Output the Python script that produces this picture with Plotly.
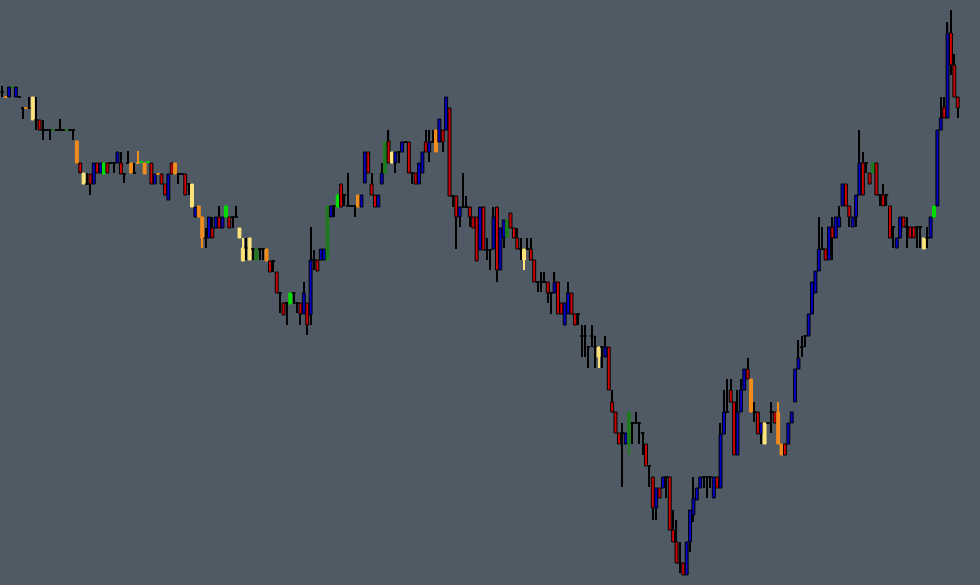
import numpy as np
import plotly.graph_objects as go

# candle category: B=up(blue) R=down(red) K=doji Y=yellow O=orange G=dark green L=lime
kind = list(
    "KOBGBKKOKY" "KRKKKGKKKG" "KKORYKRBRB" "LRKKBRKKOK" "OLOLRBORRB"
    "ROKKRKYBOO" "KBRBRBLRKK" "YYKYKGKKOR" "KRKRKLKKRB" "RBKRBBGBKL"
    "RKKKKOBBRR" "RBBGRYBKBK" "RKRBBRBKOB" "RBRKRBKKRR" "RBRKKBRBBG"
    "RRRKYKRRKK" "KRKBRRBBRR" "KKKKKKYKBR" "RRRKBGKKKK" "RKRBRBKRRR"
    "KRBBBBBKKK" "BRBBKRRBBB" "ROKRBYKKRO" "ORBBBBKKBB" "BBKRBRBBBR"
    "RBBBRKRGRK" "RKRKBBRKRR" "KKYKBLBBRB" "RRR"
)
open_ = [
    508, 503, 503, 513, 503, 503, 492, 492, 492, 480,
    480, 480, 470, 470, 470, 470, 470, 470, 470, 470,
    470, 470, 459, 437, 427, 416, 426, 416, 437, 427,
    426, 437, 437, 437, 437, 437, 426, 437, 437, 427,
    437, 438, 426, 438, 437, 416, 426, 426, 416, 400,
    437, 437, 426, 426, 426, 416, 416, 383, 394, 383,
    362, 362, 372, 372, 383, 372, 383, 383, 383, 383,
    372, 352, 352, 362, 351, 351, 351, 351, 351, 339,
    339, 328, 307, 297, 297, 296, 307, 297, 297, 286,
    297, 285, 340, 340, 340, 340, 340, 383, 394, 393,
    416, 405, 394, 394, 394, 393, 393, 417, 448, 416,
    405, 393, 416, 427, 459, 437, 437, 448, 448, 458,
    458, 427, 427, 416, 427, 458, 448, 458, 448, 458,
    470, 470, 492, 404, 404, 383, 393, 393, 393, 383,
    383, 350, 393, 350, 350, 351, 393, 330, 362, 380,
    387, 372, 362, 351, 351, 351, 351, 340, 318, 318,
    318, 318, 307, 307, 318, 297, 275, 286, 307, 286,
    286, 264, 264, 253, 264, 253, 253, 253, 243, 253,
    198, 188, 167, 167, 156, 156, 177, 177, 177, 167,
    156, 134, 123, 92, 112, 112, 123, 123, 70, 58,
    37, 37, 25, 58, 85, 100, 112, 123, 123, 123,
    102, 123, 112, 166, 188, 210, 198, 145, 188, 210,
    231, 221, 188, 188, 166, 177, 177, 188, 188, 188,
    156, 156, 156, 177, 198, 231, 253, 264, 264, 286,
    307, 329, 351, 351, 340, 373, 362, 373, 394, 416,
    394, 373, 383, 405, 437, 437, 427, 427, 437, 405,
    405, 405, 394, 373, 352, 362, 383, 373, 373, 373,
    373, 373, 362, 362, 362, 383, 394, 470, 493, 482,
    567, 535, 503,
]
high = [
    514, 503, 513, 513, 513, 503, 492, 492, 503, 503,
    503, 480, 480, 470, 470, 470, 470, 481, 470, 470,
    470, 470, 459, 437, 427, 427, 426, 437, 437, 437,
    437, 437, 437, 437, 448, 448, 426, 449, 437, 437,
    449, 438, 437, 438, 437, 426, 426, 426, 416, 426,
    437, 437, 426, 426, 426, 416, 416, 393, 394, 383,
    372, 383, 383, 383, 394, 383, 394, 383, 383, 394,
    372, 362, 362, 362, 351, 351, 351, 351, 351, 339,
    339, 328, 307, 297, 297, 307, 307, 297, 297, 318,
    297, 373, 350, 340, 351, 351, 394, 394, 394, 405,
    416, 405, 427, 394, 394, 405, 405, 448, 448, 427,
    405, 405, 437, 458, 470, 448, 448, 448, 458, 458,
    458, 427, 427, 437, 448, 470, 470, 470, 470, 481,
    470, 503, 492, 404, 404, 393, 427, 404, 393, 383,
    383, 393, 393, 362, 350, 393, 393, 372, 380, 380,
    387, 372, 372, 362, 351, 362, 362, 340, 318, 328,
    328, 318, 307, 328, 318, 297, 297, 318, 307, 286,
    286, 275, 275, 253, 275, 264, 253, 253, 264, 253,
    210, 188, 167, 177, 167, 188, 177, 188, 177, 167,
    156, 134, 123, 112, 112, 123, 123, 123, 90, 80,
    58, 37, 58, 90, 123, 112, 123, 123, 123, 123,
    123, 123, 177, 210, 221, 221, 198, 210, 221, 231,
    242, 221, 198, 188, 177, 177, 177, 198, 188, 198,
    156, 156, 177, 188, 231, 260, 264, 264, 286, 318,
    329, 383, 373, 351, 373, 383, 383, 394, 416, 416,
    394, 383, 405, 470, 448, 437, 427, 437, 437, 405,
    416, 405, 394, 373, 362, 383, 383, 383, 373, 373,
    373, 373, 362, 373, 383, 394, 470, 503, 503, 578,
    590, 546, 503,
]
low = [
    503, 503, 503, 513, 503, 503, 481, 492, 492, 480,
    470, 470, 460, 470, 460, 470, 470, 470, 470, 470,
    470, 460, 437, 427, 416, 416, 405, 416, 427, 427,
    426, 427, 437, 427, 437, 426, 417, 437, 427, 427,
    437, 438, 426, 438, 416, 416, 426, 416, 405, 400,
    426, 426, 416, 426, 405, 405, 393, 383, 383, 352,
    352, 362, 362, 372, 372, 372, 383, 372, 372, 383,
    362, 339, 340, 340, 340, 340, 340, 340, 339, 328,
    328, 307, 287, 285, 275, 296, 296, 287, 275, 286,
    265, 275, 330, 329, 340, 340, 340, 383, 383, 393,
    393, 394, 394, 394, 383, 393, 393, 417, 427, 405,
    393, 393, 416, 427, 437, 437, 427, 437, 448, 458,
    427, 416, 416, 416, 427, 448, 438, 458, 448, 458,
    448, 470, 404, 393, 351, 373, 393, 393, 373, 372,
    339, 350, 350, 340, 330, 351, 318, 330, 352, 363,
    372, 362, 351, 340, 330, 351, 340, 318, 308, 308,
    318, 297, 286, 307, 286, 286, 275, 286, 286, 275,
    275, 243, 243, 232, 253, 232, 232, 232, 243, 210,
    188, 167, 156, 113, 156, 145, 156, 177, 156, 145,
    134, 113, 80, 80, 102, 112, 102, 70, 58, 37,
    27, 25, 25, 48, 78, 100, 112, 112, 102, 112,
    102, 112, 112, 166, 188, 198, 145, 145, 188, 210,
    221, 188, 178, 166, 156, 156, 177, 167, 177, 156,
    145, 145, 156, 177, 198, 231, 243, 253, 264, 286,
    307, 329, 351, 340, 340, 340, 362, 373, 394, 394,
    373, 373, 373, 405, 405, 427, 416, 427, 405, 394,
    394, 394, 362, 352, 352, 362, 373, 352, 362, 362,
    352, 352, 351, 352, 362, 383, 394, 470, 482, 482,
    525, 503, 482,
]
close = [
    508, 503, 513, 513, 513, 503, 492, 492, 492, 503,
    480, 470, 470, 470, 470, 470, 470, 470, 470, 470,
    470, 470, 437, 427, 416, 416, 416, 437, 427, 437,
    437, 427, 437, 437, 448, 426, 426, 437, 427, 427,
    437, 438, 437, 438, 416, 426, 426, 416, 405, 426,
    426, 426, 426, 426, 405, 416, 393, 393, 383, 362,
    362, 383, 362, 383, 372, 383, 394, 372, 383, 383,
    362, 339, 352, 340, 351, 340, 351, 351, 339, 328,
    339, 307, 307, 285, 297, 307, 307, 297, 286, 307,
    275, 340, 340, 329, 351, 351, 394, 394, 394, 405,
    393, 405, 394, 394, 394, 405, 405, 448, 427, 405,
    393, 405, 427, 458, 437, 448, 448, 448, 458, 458,
    427, 427, 416, 437, 448, 448, 458, 458, 470, 481,
    458, 503, 404, 404, 383, 393, 393, 393, 383, 372,
    339, 393, 350, 350, 350, 383, 330, 372, 380, 363,
    372, 362, 351, 351, 340, 351, 340, 318, 318, 318,
    318, 307, 307, 318, 286, 286, 297, 307, 286, 275,
    286, 264, 264, 253, 264, 253, 243, 253, 253, 210,
    188, 167, 156, 167, 167, 188, 177, 177, 177, 167,
    134, 134, 92, 112, 102, 123, 123, 70, 58, 37,
    37, 25, 58, 90, 102, 112, 123, 123, 123, 123,
    123, 112, 166, 188, 188, 198, 145, 188, 210, 231,
    221, 188, 188, 166, 177, 156, 177, 188, 177, 156,
    145, 145, 177, 188, 231, 242, 253, 264, 286, 318,
    329, 351, 351, 340, 373, 362, 383, 383, 416, 394,
    383, 383, 405, 437, 405, 437, 416, 437, 405, 405,
    394, 405, 362, 373, 362, 383, 373, 373, 362, 362,
    373, 373, 351, 362, 383, 394, 470, 482, 482, 567,
    535, 503, 492,
]

fill_colors = {
    "B": "#0000C8", "R": "#D40000", "K": "#000000",
    "Y": "#FFE47A", "O": "#F28C1C", "G": "#1F7A1F", "L": "#00E000",
}
edge_colors = {
    "B": "#000000", "R": "#000000", "K": "#000000",
    "Y": "#FFE47A", "O": "#F28C1C", "G": "#1F7A1F", "L": "#00E000",
}

n = len(close)
idx = np.arange(n)
o = np.array(open_, float)
c = np.array(close, float)
h = np.array(high, float)
l = np.array(low, float)

body_lo = np.minimum(o, c)
body_hi = np.maximum(o, c)
min_h = 0.8
body_h = np.maximum(body_hi - body_lo, min_h)
body_base = np.where(body_hi - body_lo < min_h, body_lo - min_h / 2, body_lo)

fills = [fill_colors[k] for k in kind]
edges = [edge_colors[k] for k in kind]

fig = go.Figure()
fig.add_trace(go.Bar(
    x=idx, y=h - l, base=l, width=0.34,
    marker=dict(color=edges, line=dict(width=0)),
    hoverinfo="skip",
))
fig.add_trace(go.Bar(
    x=idx, y=body_h, base=body_base, width=0.86,
    marker=dict(color=fills, line=dict(color=edges, width=1)),
    hoverinfo="skip",
))

spacing_px = 3.388
r0 = -2.3 / spacing_px
r1 = r0 + 980 / spacing_px

fig.update_layout(
    width=980, height=585,
    margin=dict(l=0, r=0, t=0, b=0),
    paper_bgcolor="#505A64", plot_bgcolor="#505A64",
    barmode="overlay", showlegend=False,
    xaxis=dict(visible=False, range=[r0, r1]),
    yaxis=dict(visible=False, range=[15, 600]),
)

fig.write_html(
    "out.html",
    config={"displayModeBar": False, "staticPlot": False},
    post_script="document.body.style.margin='0';document.body.style.overflow='hidden';",
)
